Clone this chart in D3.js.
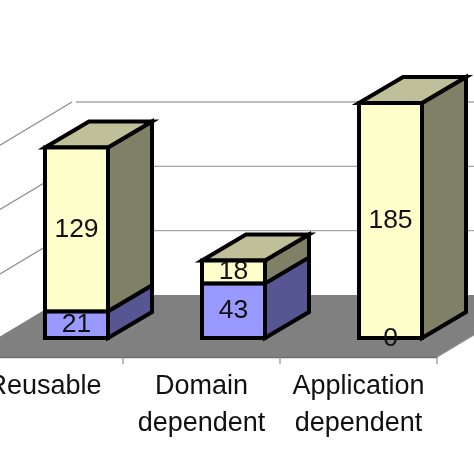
<!DOCTYPE html>
<html>
<head>
<meta charset="utf-8">
<script src="https://cdn.jsdelivr.net/npm/d3@7"></script>
<style>
  body { margin: 0; background: #fff; }
  svg { display: block; filter: blur(0.4px); }
  text { font-family: "Liberation Sans", Arial, sans-serif; fill: #111; }
</style>
</head>
<body>
<div id="chart"></div>
<script>
// values
var categories = ["Reusable", "Domain dependent", "Application dependent"];
var lowerValues = [21, 43, 0];
var upperValues = [129, 18, 185];
var gridValues = [50, 100, 150];

var size = 474;
var depth = {x: 44, y: 26};      // side/top face of a bar
var slope = 0.6;                 // floor and side wall lines

var x = d3.scaleBand().domain(categories).range([-34, 437]);
var y = d3.scaleLinear().domain([0, 185]).range([338, 103]);
var wallY = d3.scaleLinear().domain([0, 150]).range([295, 102]);

var barWidth = 63;
var barShift = 32;   // bars stand further back than the front edge of the floor
var floorFront = 357;
var wallLeft = 72;

var svg = d3.select("#chart").append("svg")
  .attr("width", size)
  .attr("height", size);

var line = d3.line();

// floor
var floorDepth = floorFront - wallY(0);
svg.append("path")
  .attr("d", line([
    [x.range()[0], floorFront],
    [x.range()[1], floorFront],
    [x.range()[1] + floorDepth / slope, wallY(0)],
    [x.range()[0] + floorDepth / slope, wallY(0)]
  ]) + "Z")
  .attr("fill", "#808080");

// grid lines, back wall and side wall
svg.selectAll("line.back").data(gridValues).enter().append("line")
  .attr("class", "back")
  .attr("x1", wallLeft + 4)
  .attr("x2", size)
  .attr("y1", d => wallY(d))
  .attr("y2", d => wallY(d))
  .attr("stroke", "#a6a6a6")
  .attr("stroke-width", 1.3);

svg.selectAll("line.side").data(gridValues).enter().append("line")
  .attr("class", "side")
  .attr("x1", wallLeft)
  .attr("x2", 0)
  .attr("y1", d => wallY(d))
  .attr("y2", d => wallY(d) + wallLeft * slope)
  .attr("stroke", "#8c8c8c")
  .attr("stroke-width", 1.2);

// x axis
var axis = svg.append("g")
  .attr("transform", "translate(0," + floorFront + ")")
  .call(d3.axisBottom(x).tickSize(0).tickFormat(""));
axis.select(".domain").attr("stroke", "#6e6e6e").attr("stroke-width", 1.3);

svg.selectAll("line.tick").data(categories).enter().append("line")
  .attr("class", "tick")
  .attr("x1", d => x(d) + x.bandwidth())
  .attr("x2", d => x(d) + x.bandwidth())
  .attr("y1", floorFront)
  .attr("y2", floorFront + 7)
  .attr("stroke", "#8c8c8c")
  .attr("stroke-width", 1.2);

// right edge of the floor, front corner going back
svg.append("line")
  .attr("x1", x.range()[1])
  .attr("y1", floorFront)
  .attr("x2", size)
  .attr("y2", floorFront - (size - x.range()[1]) * slope)
  .attr("stroke", "#8c8c8c")
  .attr("stroke-width", 1.2);

// one stacked box: front, side and (if it is the top one) lid
function box(g, left, y0, y1, front, side, lid) {
  var right = left + barWidth;
  g.append("path")
    .attr("d", line([[right, y0], [right + depth.x, y0 - depth.y], [right + depth.x, y1 - depth.y], [right, y1]]) + "Z")
    .attr("fill", side);
  if (lid) {
    g.append("path")
      .attr("d", line([[left, y1], [left + depth.x, y1 - depth.y], [right + depth.x, y1 - depth.y], [right, y1]]) + "Z")
      .attr("fill", lid);
  }
  g.append("rect")
    .attr("x", left)
    .attr("y", y1)
    .attr("width", barWidth)
    .attr("height", y0 - y1)
    .attr("fill", front);
}

var bars = svg.selectAll("g.bar").data(categories).enter().append("g")
  .attr("class", "bar")
  .attr("stroke", "#000")
  .attr("stroke-width", 4)
  .attr("stroke-linejoin", "miter");

bars.each(function(d, i) {
  var g = d3.select(this);
  var left = x(d) + x.bandwidth() / 2 + barShift - barWidth / 2;
  var a = lowerValues[i], b = upperValues[i];
  if (a > 0) box(g, left, y(0), y(a), "#9999ff", "#565692", null);
  box(g, left, y(a), y(a + b), "#ffffcc", "#808066", "#bfbf99");
});

// value labels
function valueLabels(values, base) {
  svg.selectAll(null).data(categories).enter().append("text")
    .attr("x", d => x(d) + x.bandwidth() / 2 + barShift)
    .attr("y", (d, i) => y(base(i) + values[i] / 2) + 7.5)
    .attr("text-anchor", "middle")
    .attr("font-size", 26.5)
    .text((d, i) => values[i]);
}
valueLabels(lowerValues, () => 0);
valueLabels(upperValues, i => lowerValues[i]);

// category labels, two lines where the name has two words
svg.selectAll("text.cat").data(categories).enter().append("text")
  .attr("class", "cat")
  .attr("text-anchor", "middle")
  .attr("font-size", 27)
  .each(function(d) {
    var t = d3.select(this);
    d.split(" ").forEach(function(w, i) {
      t.append("tspan")
        .attr("x", x(d) + x.bandwidth() / 2)
        .attr("y", 394 + i * 37)
        .text(w);
    });
  });
</script>
</body>
</html>
